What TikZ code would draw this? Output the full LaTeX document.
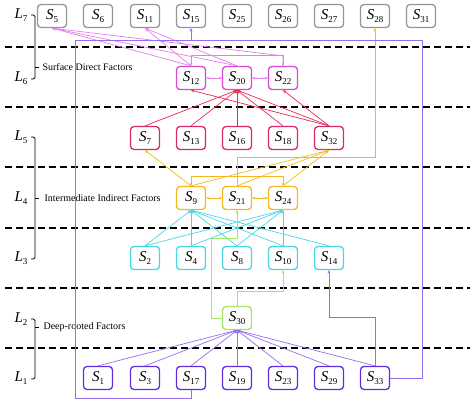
\documentclass[tikz,border=0pt]{standalone}
\usepackage{fontspec}
\setmainfont{Liberation Serif}
\definecolor{lvgray}{RGB}{150,150,150}
\definecolor{lvmagenta}{RGB}{214,72,214}
\definecolor{edmagenta}{RGB}{230,125,235}
\definecolor{lvcrimson}{RGB}{214,40,110}
\definecolor{edred}{RGB}{232,40,80}
\definecolor{lvorange}{RGB}{245,185,30}
\definecolor{lvcyan}{RGB}{70,215,230}
\definecolor{lvgreen}{RGB}{165,230,100}
\definecolor{lvpurple}{RGB}{95,45,220}
\definecolor{edpurple}{RGB}{150,110,240}
\usetikzlibrary{arrows.meta,positioning,calc}

\newcommand{\fac}[1]{\textit{S}\raisebox{-0.5ex}{\fontsize{9}{9}\selectfont #1}}
\newcommand{\lev}[1]{\textit{L}\raisebox{-0.5ex}{\fontsize{9}{9}\selectfont #1}}

\tikzset{
    factor/.style={draw, fill=white, rounded corners=3.5pt, line width=1.3pt,
        minimum width=29pt, minimum height=23pt, inner sep=0pt,
        font=\fontsize{15}{15}\selectfont},
    levelline/.style={line width=1.8pt, dash pattern=on 7pt off 4pt},
    link/.style={line width=0.7pt, -{Stealth[length=3.5pt,width=3pt]}},
    twolink/.style={line width=0.7pt, {Stealth[length=3pt,width=2.6pt]}-{Stealth[length=3pt,width=2.6pt]}},
    bracket/.style={line width=0.8pt, rounded corners=1.5pt},
    grouplabel/.style={anchor=west, font=\fontsize{10}{12}\selectfont}
}

\begin{document}
\begin{tikzpicture}[x=1pt, y=-1pt]
    \useasboundingbox (0,0) rectangle (474,403);

    % Level separators
    \foreach \y in {47,107,167,228,288,348}
        \draw[levelline] (5,\y) -- (470,\y);

    % Level names
    \foreach \n/\y in {7/15,6/78,5/137,4/198,3/258,2/319,1/378}
        \node[font=\fontsize{15}{15}\selectfont] (lv\n) at (21,\y) {\lev{\n}};

    % Group brackets
    \draw[bracket] (31,15) -- (35,15) -- (35,79) -- (31,79);
    \draw[bracket] (35,67) -- (39,67);
    \node[grouplabel] (gsurf) at (39,67) {Surface Direct Factors};
    \draw[bracket] (31,137) -- (35,137) -- (35,259) -- (31,259);
    \draw[bracket] (35,198) -- (39,198);
    \node[grouplabel] (gmid) at (41,198) {Intermediate Indirect Factors};
    \draw[bracket] (31,319) -- (35,319) -- (35,379) -- (31,379);
    \draw[bracket] (35,327) -- (39,327);
    \node[grouplabel] (gdeep) at (40,327) {Deep-rooted Factors};

    % Factor boxes, level by level
    \foreach \n/\x in {5/52,6/98,11/145,15/191,25/237,26/283,27/329,28/375,31/421}
        \node[factor, draw=lvgray] (s\n) at (\x,16) {\fac{\n}};
    \foreach \n/\x in {12/191,20/237,22/283}
        \node[factor, draw=lvmagenta] (s\n) at (\x,78) {\fac{\n}};
    \foreach \n/\x in {7/145,13/191,16/237,18/283,32/329}
        \node[factor, draw=lvcrimson] (s\n) at (\x,138) {\fac{\n}};
    \foreach \n/\x in {9/191,21/237,24/283}
        \node[factor, draw=lvorange] (s\n) at (\x,198) {\fac{\n}};
    \foreach \n/\x in {2/145,4/191,8/237,10/283,14/329}
        \node[factor, draw=lvcyan] (s\n) at (\x,258) {\fac{\n}};
    \node[factor, draw=lvgreen] (s30) at (237,318) {\fac{30}};
    \foreach \n/\x in {1/98,3/145,17/191,19/237,23/283,29/329,33/375}
        \node[factor, draw=lvpurple] (s\n) at (\x,378) {\fac{\n}};

    % L6 -> L7
    \foreach \f in {s12,s20}
        \draw[link, edmagenta] (\f.north) -- (s5.south);
    \draw[link, edmagenta] (s22.north) -- ++(0,-10) -- (s5.south);
    \foreach \f in {s12,s20}
        \draw[link, edmagenta] (\f.north) -- (s11.south);
    \draw[twolink, edmagenta] (s12.north) -- ++(0,-10) -| (s22.north);
    \draw[twolink, edmagenta] (s12) -- (s20);
    \draw[twolink, edmagenta] (s20) -- (s22);

    % L5 -> L6
    \foreach \f in {s7,s13,s16,s18,s32}
        \draw[link, edred] (\f.north) -- (s20.south);
    \draw[link, edred] (s32.north) -- (s12.south);
    \draw[link, edred] (s32.north) -- (s22.south);

    % L4 -> L5
    \draw[link, lvorange] (s9.north) -- (s7.south);
    \foreach \f in {s9,s21,s24}
        \draw[link, lvorange] (\f.north) -- (s32.south);
    \draw[twolink, lvorange] (s9.north) -- ++(0,-9) -| (s24.north);
    \draw[link, lvorange] (s21.north) -- ++(0,-28) -| (s28.south);
    \draw[twolink, lvorange] (s9) -- (s21);
    \draw[twolink, lvorange] (s21) -- (s24);

    % L3 -> L4
    \foreach \f in {s2,s4,s8,s10,s14}
        \draw[link, lvcyan] (\f.north) -- (s9.south);
    \foreach \f in {s2,s4,s8,s10}
        \draw[link, lvcyan] (\f.north) -- (s24.south);

    % L2 -> L3, L4
    \draw[link, lvgreen] (s30.north) -- ++(0,-14) -| (s10.south);
    \draw[link, lvgreen] (s30.west) -- ++(-11,0) |- ($(s21.south)+(0,28.5)$) -- (s21.south);

    % L1 -> L2 and the long loops
    \foreach \f in {s1,s3,s17,s19,s23,s29,s33}
        \draw[link, edpurple] (\f.north) -- (s30.south);
    \draw[link, edpurple] (s33.north) -- ++(0,-48.5) -| (s14.south);
    \coordinate (loopnw) at (75,40);
    \coordinate (loopne) at (422,40);
    \draw[link, edpurple] (s17.south) -- ++(0,8.5) -| (loopnw) -| (s15.south);
    \draw[edpurple, line width=0.7pt] (s33.east) -| (loopne) -- (loopne -| s15.south);
\end{tikzpicture}
\end{document}
